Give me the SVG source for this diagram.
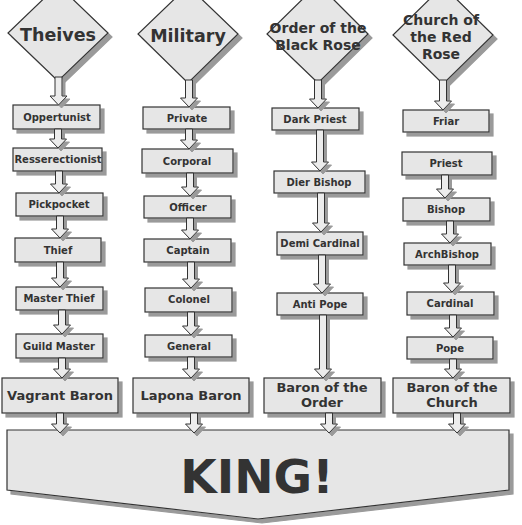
<svg xmlns="http://www.w3.org/2000/svg" width="522" height="525" viewBox="0 0 522 525">
<defs>
<filter id="sh" x="-20%" y="-20%" width="150%" height="150%">
<feDropShadow dx="4" dy="4" stdDeviation="0.4" flood-color="#9a9a9a" flood-opacity="1"/>
</filter>
<filter id="sha" x="-50%" y="-20%" width="200%" height="150%">
<feDropShadow dx="3" dy="3" stdDeviation="0.3" flood-color="#9a9a9a" flood-opacity="1"/>
</filter>
</defs>
<style>
.n rect, .n polygon, .n path { fill:#e6e6e6; stroke:#333; stroke-width:1.2; filter:url(#sh); }
.n text { font-family:"DejaVu Sans", Verdana, sans-serif; font-weight:bold; fill:#333; text-anchor:middle; }
.s { font-size:10px; }
.b { font-size:13px; }
.t { font-size:17.5px; }
.t2 { font-size:14px; }
.k { font-size:47px; }
#connectors path { fill:#ececec; stroke:#333; stroke-width:1; filter:url(#sha); }
</style>
<rect width="522" height="525" fill="#fff"/>

<!-- KING -->
<g id="king" class="n">
<polygon points="7,430 509,430 509,490 258,519 7,490"/>
<text class="k" x="257" y="493">KING!</text>
</g>

<!-- Diamonds -->
<g id="theives" class="n"><polygon points="58,-15 108,33 58,81 8,33"/><text class="t" x="58" y="41">Theives</text></g>
<g id="military" class="n"><polygon points="188,-14 238,34 188,83 138,34"/><text class="t" x="188" y="42">Military</text></g>
<g id="order" class="n"><polygon points="318,-16 368,34 318,83 267,34"/><text class="t2" x="318" y="33">Order of the</text><text class="t2" x="318" y="50">Black Rose</text></g>
<g id="church" class="n"><polygon points="443,-14 493,35 443,84 393,35"/><text class="t2" x="441" y="25">Church of</text><text class="t2" x="441" y="42">the Red</text><text class="t2" x="441" y="59">Rose</text></g>

<!-- Theives column -->
<g id="oppertunist" class="n"><rect x="13" y="105" width="87" height="24"/><text class="s" x="57" y="121">Oppertunist</text></g>
<g id="resserectionist" class="n"><rect x="13" y="148" width="89" height="23"/><text class="s" x="58" y="163">Resserectionist</text></g>
<g id="pickpocket" class="n"><rect x="16" y="193" width="87" height="23"/><text class="s" x="59" y="208">Pickpocket</text></g>
<g id="thief" class="n"><rect x="15" y="238" width="86" height="24"/><text class="s" x="58" y="254">Thief</text></g>
<g id="masterthief" class="n"><rect x="16" y="287" width="87" height="23"/><text class="s" x="59" y="302">Master Thief</text></g>
<g id="guildmaster" class="n"><rect x="16" y="334" width="87" height="24"/><text class="s" x="59" y="350">Guild Master</text></g>
<g id="vagrantbaron" class="n"><rect x="2" y="378" width="116" height="35"/><text class="b" x="60" y="400">Vagrant Baron</text></g>

<!-- Military column -->
<g id="private" class="n"><rect x="143" y="107" width="87" height="22"/><text class="s" x="187" y="122">Private</text></g>
<g id="corporal" class="n"><rect x="142" y="149" width="91" height="24"/><text class="s" x="187" y="165">Corporal</text></g>
<g id="officer" class="n"><rect x="144" y="196" width="87" height="22"/><text class="s" x="188" y="211">Officer</text></g>
<g id="captain" class="n"><rect x="144" y="239" width="87" height="23"/><text class="s" x="188" y="254">Captain</text></g>
<g id="colonel" class="n"><rect x="145" y="288" width="87" height="24"/><text class="s" x="189" y="303">Colonel</text></g>
<g id="general" class="n"><rect x="145" y="335" width="87" height="22"/><text class="s" x="189" y="350">General</text></g>
<g id="laponabaron" class="n"><rect x="133" y="378" width="116" height="35"/><text class="b" x="191" y="400">Lapona Baron</text></g>

<!-- Order column -->
<g id="darkpriest" class="n"><rect x="272" y="108" width="87" height="22"/><text class="s" x="315" y="123">Dark Priest</text></g>
<g id="dierbishop" class="n"><rect x="274" y="171" width="91" height="22"/><text class="s" x="319" y="186">Dier Bishop</text></g>
<g id="demicardinal" class="n"><rect x="277" y="232" width="86" height="23"/><text class="s" x="320" y="247">Demi Cardinal</text></g>
<g id="antipope" class="n"><rect x="277" y="293" width="86" height="22"/><text class="s" x="320" y="308">Anti Pope</text></g>
<g id="baronorder" class="n"><rect x="264" y="378" width="117" height="35"/><text class="b" x="322" y="392">Baron of the</text><text class="b" x="322" y="407">Order</text></g>

<!-- Church column -->
<g id="friar" class="n"><rect x="403" y="110" width="86" height="22"/><text class="s" x="446" y="125">Friar</text></g>
<g id="priest" class="n"><rect x="402" y="152" width="90" height="23"/><text class="s" x="446" y="167">Priest</text></g>
<g id="bishop" class="n"><rect x="403" y="198" width="87" height="23"/><text class="s" x="446" y="213">Bishop</text></g>
<g id="archbishop" class="n"><rect x="404" y="243" width="87" height="22"/><text class="s" x="447" y="258">ArchBishop</text></g>
<g id="cardinal" class="n"><rect x="407" y="292" width="87" height="23"/><text class="s" x="450" y="307">Cardinal</text></g>
<g id="pope" class="n"><rect x="407" y="337" width="86" height="22"/><text class="s" x="450" y="352">Pope</text></g>
<g id="baronchurch" class="n"><rect x="393" y="378" width="117" height="35"/><text class="b" x="452" y="392">Baron of the</text><text class="b" x="452" y="407">Church</text></g>

<!-- Connectors: block arrows -->
<g id="connectors">
<path d="M55,77 H62 V96 H67 L58.5,105 L50,96 H55 Z"/>
<path d="M54.5,129 H61.5 V139 H66.5 L58,148 L49.5,139 H54.5 Z"/>
<path d="M55.5,171 H62.5 V184 H67.5 L59,193 L50.5,184 H55.5 Z"/>
<path d="M56.5,216 H63.5 V229 H68.5 L60,238 L51.5,229 H56.5 Z"/>
<path d="M56.5,262 H63.5 V278 H68.5 L60,287 L51.5,278 H56.5 Z"/>
<path d="M58.5,310 H65.5 V325 H70.5 L62,334 L53.5,325 H58.5 Z"/>
<path d="M58.5,358 H65.5 V369 H70.5 L62,378 L53.5,369 H58.5 Z"/>
<path d="M56.5,413 H63.5 V424 H68.5 L60,433 L51.5,424 H56.5 Z"/>

<path d="M185.5,80 H192.5 V98 H197.5 L189,107 L180.5,98 H185.5 Z"/>
<path d="M185.5,129 H192.5 V140 H197.5 L189,149 L180.5,140 H185.5 Z"/>
<path d="M186.5,173 H193.5 V187 H198.5 L190,196 L181.5,187 H186.5 Z"/>
<path d="M186.5,218 H193.5 V230 H198.5 L190,239 L181.5,230 H186.5 Z"/>
<path d="M187.5,262 H194.5 V279 H199.5 L191,288 L182.5,279 H187.5 Z"/>
<path d="M187.5,312 H194.5 V326 H199.5 L191,335 L182.5,326 H187.5 Z"/>
<path d="M187.5,357 H194.5 V369 H199.5 L191,378 L182.5,369 H187.5 Z"/>
<path d="M190.5,413 H197.5 V424 H202.5 L194,433 L185.5,424 H190.5 Z"/>

<path d="M314.5,80 H321.5 V99 H326.5 L318,108 L309.5,99 H314.5 Z"/>
<path d="M316.5,130 H323.5 V162 H328.5 L320,171 L311.5,162 H316.5 Z"/>
<path d="M317.5,193 H324.5 V223 H329.5 L321,232 L312.5,223 H317.5 Z"/>
<path d="M318.5,255 H325.5 V284 H330.5 L322,293 L313.5,284 H318.5 Z"/>
<path d="M319.5,315 H326.5 V369 H331.5 L323,378 L314.5,369 H319.5 Z"/>
<path d="M325.5,413 H332.5 V424 H337.5 L329,433 L320.5,424 H325.5 Z"/>

<path d="M439.5,80 H446.5 V101 H451.5 L443,110 L434.5,101 H439.5 Z"/>
<path d="M441.5,175 H448.5 V189 H453.5 L445,198 L436.5,189 H441.5 Z"/>
<path d="M446.5,221 H453.5 V234 H458.5 L450,243 L441.5,234 H446.5 Z"/>
<path d="M448.5,265 H455.5 V283 H460.5 L452,292 L443.5,283 H448.5 Z"/>
<path d="M449.5,315 H456.5 V328 H461.5 L453,337 L444.5,328 H449.5 Z"/>
<path d="M449.5,359 H456.5 V369 H461.5 L453,378 L444.5,369 H449.5 Z"/>
<path d="M453.5,413 H460.5 V424 H465.5 L457,433 L448.5,424 H453.5 Z"/>
</g>
</svg>
